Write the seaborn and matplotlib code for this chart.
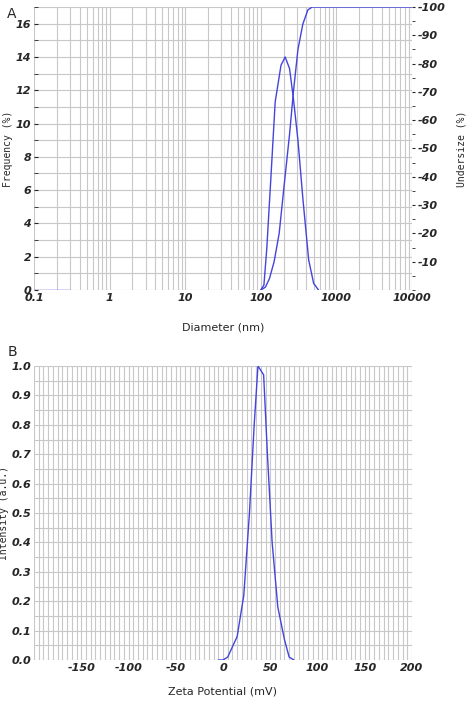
import matplotlib
matplotlib.use("Agg")
import matplotlib.pyplot as plt
import seaborn as sns
import numpy as np
from matplotlib.ticker import LogLocator, MultipleLocator, NullFormatter

sns.set_style("white")

diam_freq = [100, 110, 120, 135, 155, 185, 210, 240, 270, 310, 360, 430, 500, 580]
freq = [0, 0.3, 2.5, 6.5, 11.3, 13.5, 14.0, 13.3, 11.5, 9.0, 5.5, 1.8, 0.4, 0]
diam_under = [100, 115, 130, 150, 175, 200, 240, 270, 310, 360, 420, 480, 10000]
under = [0, 1, 4, 10, 20, 35, 55, 70, 85, 94, 99, 100, 100]
diam_base = [0.1, 0.3]
zeta = [-5, 0, 5, 15, 22, 28, 33, 37, 43, 47, 52, 58, 65, 70, 75]
intensity = [0, 0, 0.01, 0.08, 0.22, 0.5, 0.8, 1.0, 0.97, 0.7, 0.4, 0.18, 0.07, 0.01, 0]

col = "#4444dd"
tickfont = dict(fontweight="bold", fontstyle="italic", fontsize=8)
fig = plt.figure(figsize=(4.74, 7.04), dpi=100)
L, R = 34, 412
ax1 = fig.add_axes([L/474, 1-290/704, (R-L)/474, 283/704])
ax2 = fig.add_axes([L/474, 1-660/704, (R-L)/474, 294/704])

# Panel A
sns.lineplot(x=diam_freq, y=freq, ax=ax1, color=col, lw=1)
sns.lineplot(x=diam_base, y=[0, 0], ax=ax1, color=col, lw=1)
ax1.set_xscale("log")
ax1.set_xlim(0.1, 10000)
ax1.set_ylim(0, 17)
ax1.xaxis.set_minor_locator(LogLocator(base=10, subs=np.arange(2, 10)))
ax1.xaxis.set_minor_formatter(NullFormatter())
ax1.set_xticks([0.1, 1, 10, 100, 1000, 10000])
ax1.set_xticklabels(["0.1", "1", "10", "100", "1000", "10000"], **tickfont)
ax1.set_yticks(range(0, 17, 2))
ax1.set_yticklabels([str(v) for v in range(0, 17, 2)], **tickfont)
ax1.yaxis.set_minor_locator(MultipleLocator(1))
ax1.grid(True, which="both", color="#c8c8c8", lw=0.8)
ax1.set_axisbelow(True)
ax1.set_xlabel("Diameter (nm)", fontsize=8, labelpad=14)
ax1.set_ylabel("Frequency (%)", family="DejaVu Sans Mono", fontsize=7, labelpad=2)
ax1.tick_params(which="both", direction="in", length=3, pad=2)
axr = ax1.twinx()
sns.lineplot(x=diam_under, y=under, ax=axr, color=col, lw=1)
axr.set_ylim(0, 100)
axr.set_yticks(range(10, 101, 10))
axr.set_yticklabels(["-" + str(v) for v in range(10, 101, 10)], **tickfont)
axr.yaxis.set_minor_locator(MultipleLocator(5))
axr.tick_params(which="both", length=2, pad=2)
axr.set_ylabel("Undersize (%)", family="DejaVu Sans Mono", fontsize=7, labelpad=8)
for s in list(ax1.spines.values()) + list(axr.spines.values()):
    s.set_visible(False)
fig.text(12/474, 1-14/704, "A", fontsize=10, va="center", ha="center")

# Panel B
sns.lineplot(x=zeta, y=intensity, ax=ax2, color=col, lw=1)
ax2.set_xlim(-200, 200)
ax2.set_ylim(0, 1.0)
ax2.set_xticks(range(-150, 201, 50))
ax2.set_xticklabels([str(v) for v in range(-150, 201, 50)], **tickfont)
ax2.xaxis.set_minor_locator(MultipleLocator(5))
ax2.set_yticks(np.round(np.arange(0, 1.01, 0.1), 1))
ax2.set_yticklabels([f"{v:.1f}" for v in np.arange(0, 1.01, 0.1)], **tickfont)
ax2.yaxis.set_minor_locator(MultipleLocator(0.05))
ax2.grid(True, which="both", color="#c8c8c8", lw=0.8)
ax2.set_axisbelow(True)
ax2.tick_params(which="both", direction="in", length=3, pad=2)
ax2.set_xlabel("Zeta Potential (mV)", fontsize=8, labelpad=10)
ax2.set_ylabel("Intensity (a.u.)", family="DejaVu Sans Mono", fontsize=7, labelpad=2)
for s in ax2.spines.values():
    s.set_visible(False)
fig.text(12/474, 1-352/704, "B", fontsize=10, va="center", ha="center")

fig.savefig("out.png", dpi=100)
